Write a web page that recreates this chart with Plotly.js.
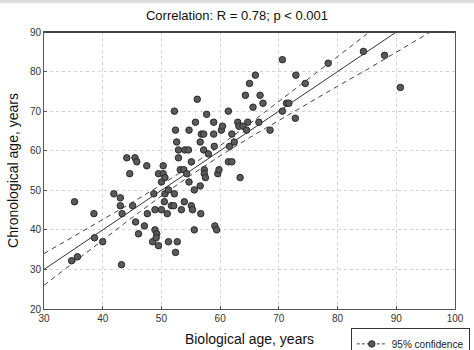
<!DOCTYPE html>
<html>
<head>
<meta charset="utf-8">
<script src="https://cdn.plot.ly/plotly-3.0.1.min.js"></script>
<style>
html,body{margin:0;padding:0;background:#fff;}
#chart{width:474px;height:350px;}
</style>
</head>
<body>
<div id="chart"></div>
<script>
// Scatter data: biological age (x) vs chronological age (y)
const bioAge = [35.2,34.7,35.7,38.5,38.6,40.0,41.9,43.0,43.0,43.3,43.2,44.1,44.6,45.1,45.5,45.8,45.6,46.1,47.1,47.5,47.6,48.7,48.5,48.9,48.9,49.2,49.1,49.5,49.5,50.0,50.0,50.3,50.3,50.6,50.5,50.6,51.0,51.2,51.2,51.7,52.1,52.2,52.2,52.4,52.6,52.9,52.9,52.4,52.7,53.2,53.4,53.8,54.0,53.9,54.3,54.7,54.6,54.7,55.1,55.1,55.3,55.6,55.6,55.8,56.1,56.6,56.6,56.7,56.8,57.2,57.3,57.3,57.5,57.2,57.7,58.0,58.9,58.9,59.0,59.1,59.4,59.6,59.8,60.2,60.4,61.4,61.4,61.6,62.0,62.0,62.4,63.0,63.2,63.4,63.9,64.3,64.5,64.7,65.0,65.6,66.0,66.8,66.6,67.3,68.5,70.6,70.6,71.3,71.7,72.9,72.8,74.5,78.4,84.4,88.0,90.7];
const chronoAge = [47.1,32.2,33.2,44.1,38.0,37.0,49.1,48.1,46.1,44.1,31.2,58.2,54.2,46.1,58.2,57.2,42.0,39.0,41.0,56.2,44.1,49.1,37.0,45.1,40.0,39.0,38.0,36.0,54.2,45.1,52.1,56.2,54.2,53.2,47.1,49.1,44.1,50.1,37.0,46.1,46.1,49.1,70.0,65.2,62.2,58.2,60.2,34.3,37.0,55.2,45.1,55.2,60.2,47.1,54.2,65.2,60.2,52.1,57.2,46.1,45.1,40.0,50.1,67.2,73.0,51.1,62.2,44.1,64.2,64.2,55.2,54.2,53.2,60.2,69.2,59.2,67.2,64.2,61.1,41.0,40.0,54.2,55.2,65.2,66.2,70.0,57.2,61.1,64.2,57.2,62.2,67.2,66.2,53.2,66.2,74.0,65.2,67.2,77.0,71.0,79.1,74.0,67.2,72.0,65.2,83.0,70.0,72.0,72.0,79.1,68.2,77.0,82.1,85.1,84.1,76.0];

// Regression line
const fitX = [30, 90];
const fitY = [30.0, 90.0];

// 95% confidence band
const upperX = [30, 35, 40, 45, 50, 55, 60, 65, 70, 75, 80, 85];
const upperY = [34.0, 38.2, 42.6, 46.9, 51.4, 56.2, 61.3, 66.8, 72.4, 78.0, 83.8, 89.5];
const lowerX = [30, 35, 40, 45, 50, 55, 60, 65, 70, 75, 80, 85, 90, 95.8];
const lowerY = [26.0, 31.8, 37.4, 43.1, 48.6, 53.8, 58.7, 63.3, 67.7, 72.1, 76.3, 80.5, 84.8, 90.0];

const xTicks = [30, 40, 50, 60, 70, 80, 90, 100];
const yTicks = [20, 30, 40, 50, 60, 70, 80, 90];

const titleText = 'Correlation: R = 0.78; p < 0.001';
const xTitle = 'Biological age, years';
const yTitle = 'Chronological age, years';
const legendLabel = '95% confidence';

const FONT = 'Liberation Sans, Arial, sans-serif';
const markerStyle = {size: 6.5, color: '#5a5a5a', line: {color: '#2a2a2a', width: 1}};

const traces = [
  {x: upperX, y: upperY, mode: 'lines', line: {color: '#444', width: 1, dash: '5px,4px'}, showlegend: false, hoverinfo: 'skip'},
  {x: lowerX, y: lowerY, mode: 'lines', line: {color: '#444', width: 1, dash: '5px,4px'}, showlegend: false, hoverinfo: 'skip'},
  {x: fitX, y: fitY, mode: 'lines', line: {color: '#333', width: 1}, showlegend: false},
  {x: bioAge, y: chronoAge, mode: 'markers', marker: markerStyle, showlegend: false, cliponaxis: false},
  {x: [null], y: [null], mode: 'lines+markers', name: legendLabel,
   line: {color: '#444', width: 1, dash: '3px,2px'}, marker: markerStyle, showlegend: true}
];

const layout = {
  width: 474, height: 350,
  margin: {l: 44, r: 19, t: 32, b: 41, autoexpand: false},
  paper_bgcolor: '#ffffff',
  plot_bgcolor: '#ffffff',
  font: {family: FONT, color: '#222'},
  title: {text: titleText, font: {size: 13, color: '#111', family: FONT}, x: 0.5, xanchor: 'center', y: 0.955, yanchor: 'middle'},
  xaxis: {
    range: [30, 100], tickvals: xTicks, ticktext: xTicks.map(String),
    showgrid: true, gridcolor: '#d2d2d2', griddash: 'dot', gridwidth: 1,
    zeroline: false, showline: true, linecolor: '#555', linewidth: 1, mirror: true,
    ticks: 'inside', ticklen: 3, tickcolor: '#555',
    tickfont: {size: 10, color: '#333'},
    title: {text: xTitle, font: {size: 14, color: '#111'}, standoff: 11},
    automargin: false
  },
  yaxis: {
    range: [20, 90], tickvals: yTicks, ticktext: yTicks.map(String),
    showgrid: true, gridcolor: '#d2d2d2', griddash: 'dot', gridwidth: 1,
    zeroline: false, showline: true, linecolor: '#555', linewidth: 1, mirror: true,
    ticks: 'inside', ticklen: 3, tickcolor: '#555',
    tickfont: {size: 10, color: '#333'},
    title: {text: yTitle, font: {size: 14, color: '#111'}, standoff: 7},
    automargin: false
  },
  showlegend: true,
  legend: {
    x: 1.036, xanchor: 'right', y: -0.07, yanchor: 'top',
    bgcolor: '#ffffff', bordercolor: '#333', borderwidth: 1,
    font: {size: 10, color: '#222'}, itemwidth: 30,
    tracegroupgap: 0
  },
  shapes: [
    {type: 'rect', xref: 'paper', yref: 'paper', x0: -0.12, x1: 1.06, y0: 1.104, y1: 1.12, fillcolor: '#dcdcdc', line: {width: 0}, layer: 'below'},
    {type: 'line', xref: 'paper', yref: 'paper', x0: 0, x1: 1, y0: 1, y1: 1, line: {color: '#444', width: 2}}
  ]
};

Plotly.newPlot('chart', traces, layout, {staticPlot: true, displayModeBar: false});
</script>
</body>
</html>
